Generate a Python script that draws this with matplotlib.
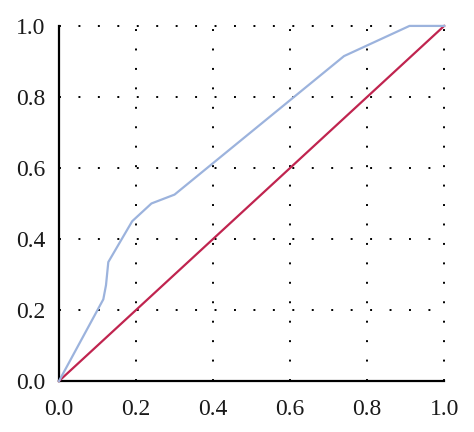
import matplotlib
matplotlib.use("Agg")
import matplotlib.pyplot as plt

# Data
fpr_model = [0.0, 0.115, 0.122, 0.128, 0.19, 0.24, 0.30, 0.74, 0.91, 1.0]
tpr_model = [0.0, 0.23, 0.27, 0.335, 0.45, 0.50, 0.525, 0.915, 1.0, 1.0]
ref_x = [0.0, 1.0]
ref_y = [0.0, 1.0]
ticks = [0.0, 0.2, 0.4, 0.6, 0.8, 1.0]
tick_labels = ["0.0", "0.2", "0.4", "0.6", "0.8", "1.0"]

plt.rcParams['font.family'] = ['Liberation Serif', 'DejaVu Serif']

fig = plt.figure(figsize=(4.74, 4.32), dpi=100)
ax = fig.add_axes([0.1245, 0.118, 0.8125, 0.822])

# dotted grid
for t in ticks[1:]:
    ax.plot([t, t], [0, 1], color='black', linestyle=(0, (1, 9)), linewidth=1.4,
            clip_on=False, zorder=1)
    ax.plot([0, 1], [t, t], color='black', linestyle=(0, (1, 9)), linewidth=1.4,
            clip_on=False, zorder=1)

ax.plot(ref_x, ref_y, color='#c0244f', linewidth=1.6, zorder=3, clip_on=False)
ax.plot(fpr_model, tpr_model, color='#9cb3dd', linewidth=1.6, zorder=3, clip_on=False)

ax.set_xlim(0, 1)
ax.set_ylim(0, 1)
ax.set_xticks(ticks)
ax.set_xticklabels(tick_labels)
ax.set_yticks(ticks)
ax.set_yticklabels(tick_labels)
ax.tick_params(length=0, labelsize=17, colors='#1a1a1a')
ax.tick_params(axis='y', pad=10)
ax.tick_params(axis='x', pad=13)
for s in ['top', 'right']:
    ax.spines[s].set_visible(False)
for s in ['left', 'bottom']:
    ax.spines[s].set_linewidth(1.6)
    ax.spines[s].set_color('black')

fig.savefig('out.png', dpi=100)
